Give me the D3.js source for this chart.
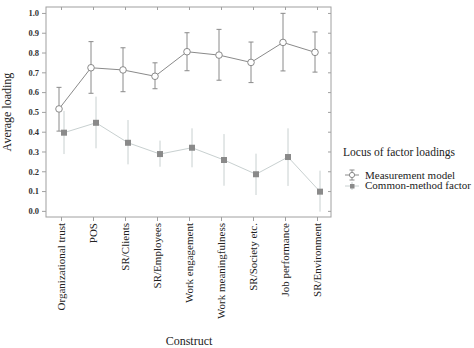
<!DOCTYPE html>
<html><head><meta charset="utf-8">
<script src="https://cdn.jsdelivr.net/npm/d3@7"></script>
<style>body{margin:0;background:#fff}svg{display:block}text{font-family:"Liberation Serif","DejaVu Serif",serif}</style>
</head><body>
<script>
const categories = ["Organizational trust","POS","SR/Clients","SR/Employees","Work engagement","Work meaningfulness","SR/Society etc.","Job performance","SR/Environment"];
const measurementMean = [0.515,0.723,0.712,0.680,0.804,0.787,0.750,0.851,0.801];
const measurementLow  = [0.403,0.594,0.602,0.617,0.708,0.660,0.648,0.707,0.701];
const measurementHigh = [0.624,0.855,0.824,0.748,0.900,0.917,0.853,0.998,0.904];
const methodMean = [0.395,0.445,0.344,0.287,0.319,0.257,0.185,0.272,0.097];
const methodLow  = [0.287,0.316,0.235,0.223,0.220,0.127,0.080,0.126,-0.004];
const methodHigh = [0.505,0.577,0.459,0.355,0.417,0.388,0.289,0.417,0.203];
const yTicks = [0.0,0.1,0.2,0.3,0.4,0.5,0.6,0.7,0.8,0.9,1.0];

const W=474,H=348;
const svg=d3.select("body").append("svg").attr("width",W).attr("height",H);
const L=46,R=331,T=7,B=217;
const x=d3.scalePoint().domain(categories).range([61,317]);
const y=d3.scaleLinear().domain([-0.031,1.03]).range([B,T]);
const frame="#a0a0a0";

svg.append("rect").attr("x",L).attr("y",T).attr("width",R-L).attr("height",B-T)
  .attr("fill","none").attr("stroke",frame).attr("stroke-width",1);

const ya=svg.append("g").attr("transform",`translate(${L},0)`)
  .call(d3.axisLeft(y).tickValues(yTicks).tickFormat(d3.format(".1f")).tickSize(4).tickPadding(3));
ya.select(".domain").remove();
ya.selectAll("line").attr("stroke",frame);
ya.selectAll("text").attr("font-size",8.5).attr("font-weight","bold").attr("fill","#333");
const yr=svg.append("g").attr("transform",`translate(${R},0)`)
  .call(d3.axisRight(y).tickValues(yTicks).tickFormat("").tickSize(-3));
yr.select(".domain").remove(); yr.selectAll("line").attr("stroke",frame);
const xt=svg.append("g").attr("transform",`translate(0,${T})`)
  .call(d3.axisTop(x).tickFormat("").tickSize(-3));
xt.select(".domain").remove(); xt.selectAll("line").attr("stroke",frame);
const xb=svg.append("g").attr("transform",`translate(0,${B})`)
  .call(d3.axisBottom(x).tickSize(4).tickPadding(2));
xb.select(".domain").remove();
xb.selectAll("line").attr("stroke",frame);
xb.selectAll("text").attr("font-size",11).attr("fill","#222")
  .attr("transform","rotate(-90)").attr("text-anchor","end").attr("dx",0).attr("dy","0.32em").attr("x",-6).attr("y",0);

svg.append("text").attr("transform",`translate(11,112) rotate(-90)`).attr("text-anchor","middle")
  .attr("font-size",12).attr("fill","#222").text("Average loading");
svg.append("text").attr("x",189).attr("y",345).attr("text-anchor","middle")
  .attr("font-size",12).attr("fill","#222").text("Construct");

const off1=-2, off2=3;
const c2="#c8d0d0", m2="#8a8a8a";
const g2=svg.append("g");
g2.append("path").datum(categories).attr("fill","none").attr("stroke",c2).attr("stroke-width",1)
  .attr("d",d3.line().x(d=>x(d)+off2).y((d,i)=>y(methodMean[i])));
g2.selectAll(".eb").data(categories).join("line").attr("stroke",c2).attr("stroke-width",1)
  .attr("x1",d=>x(d)+off2).attr("x2",d=>x(d)+off2)
  .attr("y1",(d,i)=>y(methodLow[i])).attr("y2",(d,i)=>y(methodHigh[i]));
g2.selectAll("rect").data(categories).join("rect").attr("fill",m2)
  .attr("x",d=>x(d)+off2-3).attr("y",(d,i)=>y(methodMean[i])-3).attr("width",6).attr("height",6);

const c1="#8a8a8a";
const g1=svg.append("g");
g1.append("path").datum(categories).attr("fill","none").attr("stroke",c1).attr("stroke-width",1)
  .attr("d",d3.line().x(d=>x(d)+off1).y((d,i)=>y(measurementMean[i])));
const eb=g1.selectAll(".eb").data(categories).join("g");
eb.append("line").attr("stroke",c1)
  .attr("x1",d=>x(d)+off1).attr("x2",d=>x(d)+off1)
  .attr("y1",(d,i)=>y(measurementLow[i])).attr("y2",(d,i)=>y(measurementHigh[i]));
[measurementLow,measurementHigh].forEach(arr=>{
  eb.append("line").attr("stroke",c1)
    .attr("x1",d=>x(d)+off1-2.5).attr("x2",d=>x(d)+off1+2.5)
    .attr("y1",(d,i)=>y(arr[i])).attr("y2",(d,i)=>y(arr[i]));
});
g1.selectAll("circle").data(categories).join("circle").attr("fill","#fff").attr("stroke",c1)
  .attr("cx",d=>x(d)+off1).attr("cy",(d,i)=>y(measurementMean[i])).attr("r",3.3);

const lg=svg.append("g");
lg.append("text").attr("x",343).attr("y",156).attr("font-size",11.5).attr("fill","#222").text("Locus of factor loadings");
lg.append("line").attr("x1",345).attr("x2",359).attr("y1",175).attr("y2",175).attr("stroke",c1);
lg.append("line").attr("x1",352).attr("x2",352).attr("y1",170).attr("y2",180).attr("stroke",c1);
lg.append("line").attr("x1",349.5).attr("x2",354.5).attr("y1",170).attr("y2",170).attr("stroke",c1);
lg.append("line").attr("x1",349.5).attr("x2",354.5).attr("y1",180).attr("y2",180).attr("stroke",c1);
lg.append("circle").attr("cx",352).attr("cy",175).attr("r",2.6).attr("fill","#fff").attr("stroke",c1);
lg.append("text").attr("x",365).attr("y",178.5).attr("font-size",11).attr("fill","#222").text("Measurement model");
lg.append("line").attr("x1",345).attr("x2",359).attr("y1",186).attr("y2",186).attr("stroke",c2);
lg.append("line").attr("x1",352).attr("x2",352).attr("y1",182).attr("y2",190).attr("stroke",c2);
lg.append("rect").attr("x",350).attr("y",184).attr("width",4.5).attr("height",4.5).attr("fill",m2);
lg.append("text").attr("x",365).attr("y",189).attr("font-size",11).attr("fill","#222").text("Common-method factor");
</script>
</body></html>
